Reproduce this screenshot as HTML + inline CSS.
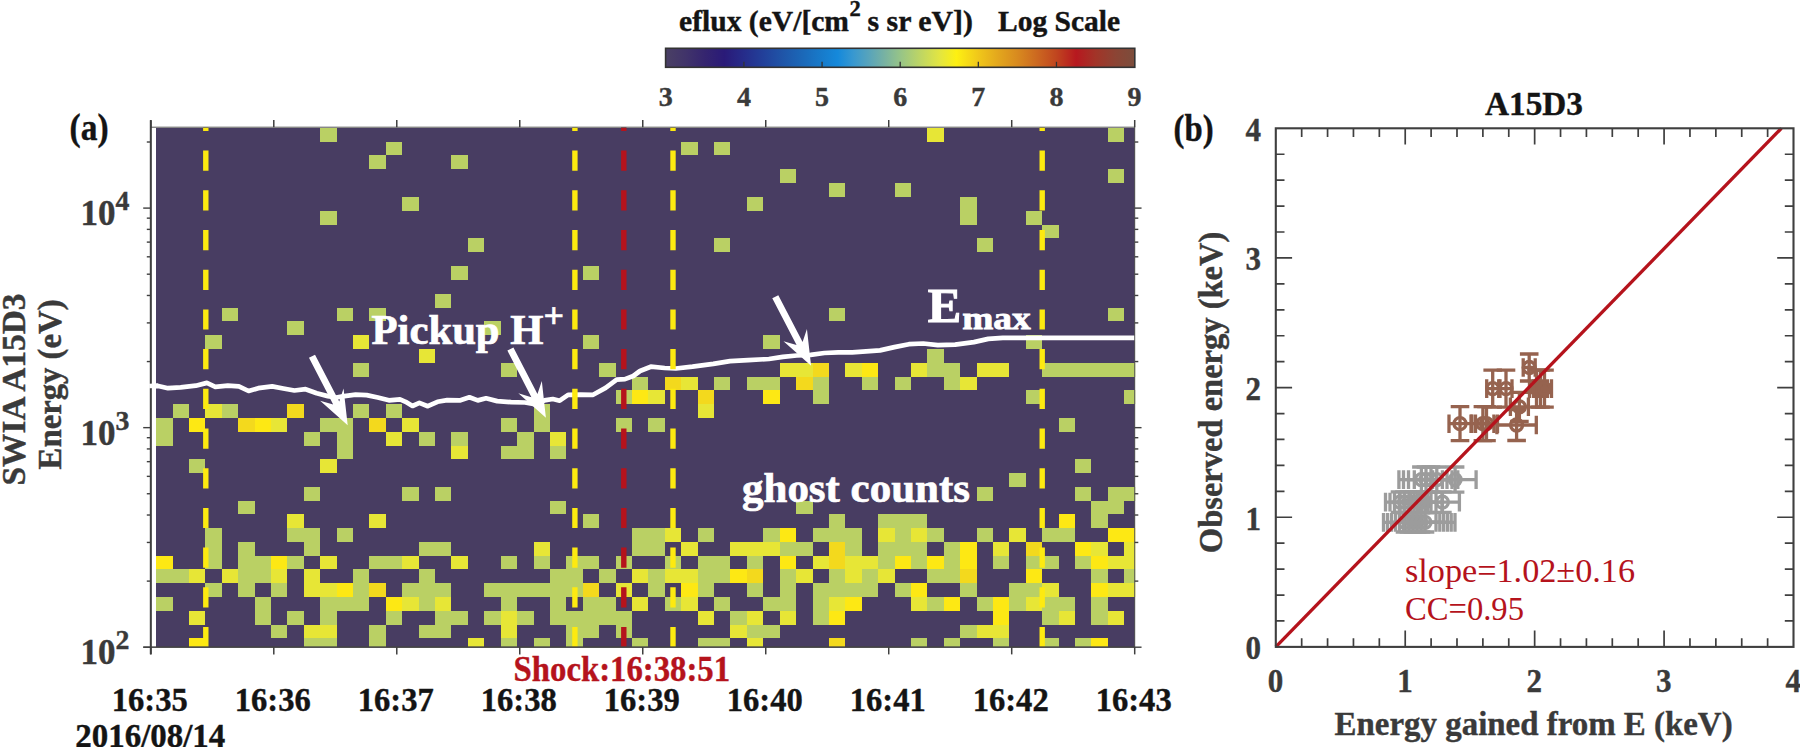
<!DOCTYPE html>
<html lang="en"><head><meta charset="utf-8"><title>SWIA A15D3 energy spectrogram</title>
<style>html,body{margin:0;padding:0;background:#fff}body{width:1800px;height:747px;overflow:hidden}svg{display:block}text{font-family:'Liberation Serif', 'DejaVu Serif', serif}</style></head><body>
<svg width="1800" height="747" viewBox="0 0 1800 747">
<rect x="0" y="0" width="1800" height="747" fill="#ffffff"/>
<defs><linearGradient id="cb" x1="0" y1="0" x2="1" y2="0">
<stop offset="0.0000" stop-color="#4a4064"/>
<stop offset="0.0417" stop-color="#41346a"/>
<stop offset="0.0833" stop-color="#35256f"/>
<stop offset="0.1250" stop-color="#2a1a78"/>
<stop offset="0.1667" stop-color="#262c8a"/>
<stop offset="0.2083" stop-color="#22409a"/>
<stop offset="0.2500" stop-color="#1f55a8"/>
<stop offset="0.2917" stop-color="#1b68b8"/>
<stop offset="0.3333" stop-color="#177bcb"/>
<stop offset="0.3667" stop-color="#1589db"/>
<stop offset="0.4000" stop-color="#3898d0"/>
<stop offset="0.4333" stop-color="#58a4bb"/>
<stop offset="0.4667" stop-color="#78b2a2"/>
<stop offset="0.5000" stop-color="#96c488"/>
<stop offset="0.5417" stop-color="#bdd565"/>
<stop offset="0.5833" stop-color="#e2e542"/>
<stop offset="0.6200" stop-color="#fdf012"/>
<stop offset="0.6667" stop-color="#f0c71a"/>
<stop offset="0.7083" stop-color="#e3a71d"/>
<stop offset="0.7500" stop-color="#d88a1f"/>
<stop offset="0.7917" stop-color="#cc6820"/>
<stop offset="0.8333" stop-color="#c0451f"/>
<stop offset="0.8750" stop-color="#b7181f"/>
<stop offset="0.9167" stop-color="#a23428"/>
<stop offset="0.9583" stop-color="#8c4434"/>
<stop offset="1.0000" stop-color="#7b4d3c"/>
</linearGradient>
<clipPath id="clipA"><rect x="150.8" y="127.2" width="984.5" height="520"/></clipPath>
</defs>
<g id="colorbar">
<rect x="665.6" y="48.3" width="469.2" height="19" fill="url(#cb)" stroke="#333333" stroke-width="1.6"/>
<text x="665.8" y="105.6" font-size="28" font-weight="bold" fill="#3a3a3a" stroke="#3a3a3a" stroke-width="0.4" text-anchor="middle">3</text>
<line x1="743.93" y1="67.3" x2="743.93" y2="61.8" stroke="#333333" stroke-width="1.3"/>
<text x="743.93" y="105.6" font-size="28" font-weight="bold" fill="#3a3a3a" stroke="#3a3a3a" stroke-width="0.4" text-anchor="middle">4</text>
<line x1="822.07" y1="67.3" x2="822.07" y2="61.8" stroke="#333333" stroke-width="1.3"/>
<text x="822.07" y="105.6" font-size="28" font-weight="bold" fill="#3a3a3a" stroke="#3a3a3a" stroke-width="0.4" text-anchor="middle">5</text>
<line x1="900.2" y1="67.3" x2="900.2" y2="61.8" stroke="#333333" stroke-width="1.3"/>
<text x="900.2" y="105.6" font-size="28" font-weight="bold" fill="#3a3a3a" stroke="#3a3a3a" stroke-width="0.4" text-anchor="middle">6</text>
<line x1="978.33" y1="67.3" x2="978.33" y2="61.8" stroke="#333333" stroke-width="1.3"/>
<text x="978.33" y="105.6" font-size="28" font-weight="bold" fill="#3a3a3a" stroke="#3a3a3a" stroke-width="0.4" text-anchor="middle">7</text>
<line x1="1056.47" y1="67.3" x2="1056.47" y2="61.8" stroke="#333333" stroke-width="1.3"/>
<text x="1056.47" y="105.6" font-size="28" font-weight="bold" fill="#3a3a3a" stroke="#3a3a3a" stroke-width="0.4" text-anchor="middle">8</text>
<text x="1134.6" y="105.6" font-size="28" font-weight="bold" fill="#3a3a3a" stroke="#3a3a3a" stroke-width="0.4" text-anchor="middle">9</text>
<text x="679" y="31.3" font-size="29" font-weight="bold" fill="#141414" stroke="#141414" stroke-width="0.4" textLength="170" lengthAdjust="spacingAndGlyphs">eflux (eV/[cm</text>
<text x="849.6" y="16.2" font-size="22.5" font-weight="bold" fill="#141414" stroke="#141414" stroke-width="0.4">2</text>
<text x="867.5" y="31.3" font-size="29" font-weight="bold" fill="#141414" stroke="#141414" stroke-width="0.4" textLength="105.5" lengthAdjust="spacingAndGlyphs">s sr eV])</text>
<text x="998" y="31.3" font-size="29" font-weight="bold" fill="#141414" stroke="#141414" stroke-width="0.4" textLength="122" lengthAdjust="spacingAndGlyphs">Log Scale</text>
</g>
<g id="panel-a">
<g clip-path="url(#clipA)">
<g shape-rendering="crispEdges">
<rect x="156.1" y="127.5" width="979.2" height="519.7" fill="#483d62"/>
<rect x="188.92" y="638.3" width="16.41" height="8.9" fill="#fde814"/>
<rect x="303.79" y="638.3" width="32.82" height="8.9" fill="#bad064"/>
<rect x="369.43" y="638.3" width="16.41" height="8.9" fill="#bad064"/>
<rect x="467.89" y="638.3" width="16.41" height="8.9" fill="#e7e636"/>
<rect x="500.71" y="638.3" width="16.41" height="8.9" fill="#bad064"/>
<rect x="533.53" y="638.3" width="16.41" height="8.9" fill="#bad064"/>
<rect x="566.35" y="638.3" width="16.41" height="8.9" fill="#bad064"/>
<rect x="631.99" y="638.3" width="16.41" height="8.9" fill="#bad064"/>
<rect x="697.63" y="638.3" width="32.82" height="8.9" fill="#bad064"/>
<rect x="746.86" y="638.3" width="16.41" height="8.9" fill="#e7e636"/>
<rect x="828.91" y="638.3" width="16.41" height="8.9" fill="#f3d91d"/>
<rect x="910.96" y="638.3" width="16.41" height="8.9" fill="#bad064"/>
<rect x="943.78" y="638.3" width="16.41" height="8.9" fill="#bad064"/>
<rect x="993.01" y="638.3" width="16.41" height="8.9" fill="#bad064"/>
<rect x="1042.24" y="638.3" width="16.41" height="8.9" fill="#bad064"/>
<rect x="1075.06" y="638.3" width="16.41" height="8.9" fill="#bad064"/>
<rect x="1091.47" y="638.3" width="16.41" height="8.9" fill="#fde814"/>
<rect x="270.97" y="624.53" width="16.41" height="13.77" fill="#bad064"/>
<rect x="303.79" y="624.53" width="32.82" height="13.77" fill="#e7e636"/>
<rect x="369.43" y="624.53" width="16.41" height="13.77" fill="#bad064"/>
<rect x="418.66" y="624.53" width="32.82" height="13.77" fill="#bad064"/>
<rect x="500.71" y="624.53" width="16.41" height="13.77" fill="#e7e636"/>
<rect x="566.35" y="624.53" width="32.82" height="13.77" fill="#bad064"/>
<rect x="615.58" y="624.53" width="16.41" height="13.77" fill="#bad064"/>
<rect x="730.45" y="624.53" width="16.41" height="13.77" fill="#e7e636"/>
<rect x="746.86" y="624.53" width="32.82" height="13.77" fill="#bad064"/>
<rect x="960.19" y="624.53" width="16.41" height="13.77" fill="#bad064"/>
<rect x="976.6" y="624.53" width="32.82" height="13.77" fill="#e7e636"/>
<rect x="188.92" y="610.76" width="16.41" height="13.77" fill="#e7e636"/>
<rect x="254.56" y="610.76" width="16.41" height="13.77" fill="#bad064"/>
<rect x="287.38" y="610.76" width="16.41" height="13.77" fill="#bad064"/>
<rect x="320.2" y="610.76" width="16.41" height="13.77" fill="#bad064"/>
<rect x="385.84" y="610.76" width="16.41" height="13.77" fill="#bad064"/>
<rect x="435.07" y="610.76" width="32.82" height="13.77" fill="#bad064"/>
<rect x="484.3" y="610.76" width="16.41" height="13.77" fill="#bad064"/>
<rect x="500.71" y="610.76" width="16.41" height="13.77" fill="#e7e636"/>
<rect x="517.12" y="610.76" width="16.41" height="13.77" fill="#bad064"/>
<rect x="549.94" y="610.76" width="82.05" height="13.77" fill="#bad064"/>
<rect x="697.63" y="610.76" width="16.41" height="13.77" fill="#e7e636"/>
<rect x="730.45" y="610.76" width="16.41" height="13.77" fill="#bad064"/>
<rect x="746.86" y="610.76" width="16.41" height="13.77" fill="#e7e636"/>
<rect x="779.68" y="610.76" width="16.41" height="13.77" fill="#e7e636"/>
<rect x="812.5" y="610.76" width="16.41" height="13.77" fill="#bad064"/>
<rect x="828.91" y="610.76" width="16.41" height="13.77" fill="#fde814"/>
<rect x="993.01" y="610.76" width="16.41" height="13.77" fill="#fde814"/>
<rect x="1042.24" y="610.76" width="16.41" height="13.77" fill="#bad064"/>
<rect x="1058.65" y="610.76" width="16.41" height="13.77" fill="#e7e636"/>
<rect x="1091.47" y="610.76" width="16.41" height="13.77" fill="#bad064"/>
<rect x="1107.88" y="610.76" width="16.41" height="13.77" fill="#e7e636"/>
<rect x="156.1" y="596.99" width="16.41" height="13.77" fill="#bad064"/>
<rect x="254.56" y="596.99" width="16.41" height="13.77" fill="#bad064"/>
<rect x="320.2" y="596.99" width="49.23" height="13.77" fill="#bad064"/>
<rect x="385.84" y="596.99" width="16.41" height="13.77" fill="#fde814"/>
<rect x="402.25" y="596.99" width="16.41" height="13.77" fill="#e7e636"/>
<rect x="418.66" y="596.99" width="16.41" height="13.77" fill="#bad064"/>
<rect x="435.07" y="596.99" width="16.41" height="13.77" fill="#e7e636"/>
<rect x="500.71" y="596.99" width="16.41" height="13.77" fill="#bad064"/>
<rect x="549.94" y="596.99" width="16.41" height="13.77" fill="#bad064"/>
<rect x="582.76" y="596.99" width="32.82" height="13.77" fill="#bad064"/>
<rect x="631.99" y="596.99" width="16.41" height="13.77" fill="#e7e636"/>
<rect x="664.81" y="596.99" width="16.41" height="13.77" fill="#bad064"/>
<rect x="681.22" y="596.99" width="16.41" height="13.77" fill="#e7e636"/>
<rect x="714.04" y="596.99" width="16.41" height="13.77" fill="#bad064"/>
<rect x="763.27" y="596.99" width="32.82" height="13.77" fill="#bad064"/>
<rect x="812.5" y="596.99" width="16.41" height="13.77" fill="#bad064"/>
<rect x="828.91" y="596.99" width="16.41" height="13.77" fill="#e7e636"/>
<rect x="845.32" y="596.99" width="16.41" height="13.77" fill="#fde814"/>
<rect x="910.96" y="596.99" width="16.41" height="13.77" fill="#e7e636"/>
<rect x="927.37" y="596.99" width="16.41" height="13.77" fill="#bad064"/>
<rect x="943.78" y="596.99" width="16.41" height="13.77" fill="#fde814"/>
<rect x="976.6" y="596.99" width="16.41" height="13.77" fill="#bad064"/>
<rect x="993.01" y="596.99" width="16.41" height="13.77" fill="#fde814"/>
<rect x="1009.42" y="596.99" width="16.41" height="13.77" fill="#bad064"/>
<rect x="1025.83" y="596.99" width="16.41" height="13.77" fill="#e7e636"/>
<rect x="1042.24" y="596.99" width="32.82" height="13.77" fill="#bad064"/>
<rect x="1091.47" y="596.99" width="16.41" height="13.77" fill="#bad064"/>
<rect x="205.33" y="583.22" width="16.41" height="13.77" fill="#bad064"/>
<rect x="238.15" y="583.22" width="16.41" height="13.77" fill="#bad064"/>
<rect x="270.97" y="583.22" width="16.41" height="13.77" fill="#bad064"/>
<rect x="303.79" y="583.22" width="32.82" height="13.77" fill="#e7e636"/>
<rect x="336.61" y="583.22" width="16.41" height="13.77" fill="#fde814"/>
<rect x="353.02" y="583.22" width="16.41" height="13.77" fill="#bad064"/>
<rect x="369.43" y="583.22" width="16.41" height="13.77" fill="#f3d91d"/>
<rect x="402.25" y="583.22" width="49.23" height="13.77" fill="#bad064"/>
<rect x="484.3" y="583.22" width="98.46" height="13.77" fill="#bad064"/>
<rect x="582.76" y="583.22" width="16.41" height="13.77" fill="#f3d91d"/>
<rect x="615.58" y="583.22" width="16.41" height="13.77" fill="#e7e636"/>
<rect x="648.4" y="583.22" width="16.41" height="13.77" fill="#bad064"/>
<rect x="681.22" y="583.22" width="16.41" height="13.77" fill="#fde814"/>
<rect x="697.63" y="583.22" width="16.41" height="13.77" fill="#bad064"/>
<rect x="746.86" y="583.22" width="16.41" height="13.77" fill="#bad064"/>
<rect x="779.68" y="583.22" width="16.41" height="13.77" fill="#bad064"/>
<rect x="812.5" y="583.22" width="65.64" height="13.77" fill="#bad064"/>
<rect x="894.55" y="583.22" width="16.41" height="13.77" fill="#bad064"/>
<rect x="910.96" y="583.22" width="16.41" height="13.77" fill="#fde814"/>
<rect x="960.19" y="583.22" width="16.41" height="13.77" fill="#bad064"/>
<rect x="1009.42" y="583.22" width="32.82" height="13.77" fill="#bad064"/>
<rect x="1042.24" y="583.22" width="16.41" height="13.77" fill="#e7e636"/>
<rect x="1091.47" y="583.22" width="16.41" height="13.77" fill="#fde814"/>
<rect x="1107.88" y="583.22" width="32.82" height="13.77" fill="#e7e636"/>
<rect x="156.1" y="569.45" width="32.82" height="13.77" fill="#bad064"/>
<rect x="188.92" y="569.45" width="16.41" height="13.77" fill="#e7e636"/>
<rect x="221.74" y="569.45" width="16.41" height="13.77" fill="#e7e636"/>
<rect x="238.15" y="569.45" width="32.82" height="13.77" fill="#bad064"/>
<rect x="270.97" y="569.45" width="16.41" height="13.77" fill="#e7e636"/>
<rect x="303.79" y="569.45" width="16.41" height="13.77" fill="#e7e636"/>
<rect x="353.02" y="569.45" width="16.41" height="13.77" fill="#bad064"/>
<rect x="418.66" y="569.45" width="16.41" height="13.77" fill="#bad064"/>
<rect x="549.94" y="569.45" width="32.82" height="13.77" fill="#bad064"/>
<rect x="599.17" y="569.45" width="16.41" height="13.77" fill="#bad064"/>
<rect x="631.99" y="569.45" width="16.41" height="13.77" fill="#e7e636"/>
<rect x="648.4" y="569.45" width="16.41" height="13.77" fill="#bad064"/>
<rect x="664.81" y="569.45" width="32.82" height="13.77" fill="#e7e636"/>
<rect x="697.63" y="569.45" width="32.82" height="13.77" fill="#bad064"/>
<rect x="730.45" y="569.45" width="16.41" height="13.77" fill="#fde814"/>
<rect x="746.86" y="569.45" width="16.41" height="13.77" fill="#f3d91d"/>
<rect x="779.68" y="569.45" width="16.41" height="13.77" fill="#bad064"/>
<rect x="796.09" y="569.45" width="16.41" height="13.77" fill="#e7e636"/>
<rect x="828.91" y="569.45" width="16.41" height="13.77" fill="#bad064"/>
<rect x="845.32" y="569.45" width="16.41" height="13.77" fill="#e7e636"/>
<rect x="861.73" y="569.45" width="16.41" height="13.77" fill="#bad064"/>
<rect x="878.14" y="569.45" width="16.41" height="13.77" fill="#e7e636"/>
<rect x="927.37" y="569.45" width="32.82" height="13.77" fill="#bad064"/>
<rect x="960.19" y="569.45" width="16.41" height="13.77" fill="#f3d91d"/>
<rect x="1025.83" y="569.45" width="16.41" height="13.77" fill="#fde814"/>
<rect x="1091.47" y="569.45" width="16.41" height="13.77" fill="#bad064"/>
<rect x="1124.29" y="569.45" width="16.41" height="13.77" fill="#bad064"/>
<rect x="156.1" y="555.68" width="16.41" height="13.77" fill="#fde814"/>
<rect x="205.33" y="555.68" width="16.41" height="13.77" fill="#bad064"/>
<rect x="238.15" y="555.68" width="32.82" height="13.77" fill="#bad064"/>
<rect x="270.97" y="555.68" width="16.41" height="13.77" fill="#fde814"/>
<rect x="287.38" y="555.68" width="16.41" height="13.77" fill="#bad064"/>
<rect x="320.2" y="555.68" width="16.41" height="13.77" fill="#e7e636"/>
<rect x="369.43" y="555.68" width="32.82" height="13.77" fill="#bad064"/>
<rect x="402.25" y="555.68" width="16.41" height="13.77" fill="#e7e636"/>
<rect x="451.48" y="555.68" width="16.41" height="13.77" fill="#e7e636"/>
<rect x="500.71" y="555.68" width="16.41" height="13.77" fill="#bad064"/>
<rect x="533.53" y="555.68" width="16.41" height="13.77" fill="#bad064"/>
<rect x="566.35" y="555.68" width="32.82" height="13.77" fill="#bad064"/>
<rect x="615.58" y="555.68" width="16.41" height="13.77" fill="#bad064"/>
<rect x="664.81" y="555.68" width="16.41" height="13.77" fill="#bad064"/>
<rect x="697.63" y="555.68" width="32.82" height="13.77" fill="#bad064"/>
<rect x="746.86" y="555.68" width="16.41" height="13.77" fill="#bad064"/>
<rect x="779.68" y="555.68" width="16.41" height="13.77" fill="#fde814"/>
<rect x="812.5" y="555.68" width="16.41" height="13.77" fill="#e7e636"/>
<rect x="828.91" y="555.68" width="16.41" height="13.77" fill="#f3d91d"/>
<rect x="845.32" y="555.68" width="32.82" height="13.77" fill="#e7e636"/>
<rect x="878.14" y="555.68" width="16.41" height="13.77" fill="#bad064"/>
<rect x="894.55" y="555.68" width="16.41" height="13.77" fill="#fde814"/>
<rect x="910.96" y="555.68" width="16.41" height="13.77" fill="#bad064"/>
<rect x="927.37" y="555.68" width="16.41" height="13.77" fill="#fde814"/>
<rect x="943.78" y="555.68" width="16.41" height="13.77" fill="#bad064"/>
<rect x="960.19" y="555.68" width="16.41" height="13.77" fill="#fde814"/>
<rect x="993.01" y="555.68" width="16.41" height="13.77" fill="#bad064"/>
<rect x="1025.83" y="555.68" width="32.82" height="13.77" fill="#bad064"/>
<rect x="1075.06" y="555.68" width="16.41" height="13.77" fill="#bad064"/>
<rect x="1091.47" y="555.68" width="16.41" height="13.77" fill="#fde814"/>
<rect x="1107.88" y="555.68" width="32.82" height="13.77" fill="#e7e636"/>
<rect x="205.33" y="541.91" width="16.41" height="13.77" fill="#bad064"/>
<rect x="238.15" y="541.91" width="16.41" height="13.77" fill="#bad064"/>
<rect x="303.79" y="541.91" width="16.41" height="13.77" fill="#bad064"/>
<rect x="418.66" y="541.91" width="32.82" height="13.77" fill="#bad064"/>
<rect x="533.53" y="541.91" width="16.41" height="13.77" fill="#e7e636"/>
<rect x="631.99" y="541.91" width="32.82" height="13.77" fill="#bad064"/>
<rect x="681.22" y="541.91" width="16.41" height="13.77" fill="#e7e636"/>
<rect x="730.45" y="541.91" width="49.23" height="13.77" fill="#e7e636"/>
<rect x="779.68" y="541.91" width="32.82" height="13.77" fill="#bad064"/>
<rect x="828.91" y="541.91" width="16.41" height="13.77" fill="#f3d91d"/>
<rect x="845.32" y="541.91" width="16.41" height="13.77" fill="#bad064"/>
<rect x="878.14" y="541.91" width="49.23" height="13.77" fill="#bad064"/>
<rect x="943.78" y="541.91" width="16.41" height="13.77" fill="#bad064"/>
<rect x="960.19" y="541.91" width="16.41" height="13.77" fill="#fde814"/>
<rect x="993.01" y="541.91" width="16.41" height="13.77" fill="#e7e636"/>
<rect x="1025.83" y="541.91" width="16.41" height="13.77" fill="#f3d91d"/>
<rect x="1075.06" y="541.91" width="16.41" height="13.77" fill="#fde814"/>
<rect x="1091.47" y="541.91" width="16.41" height="13.77" fill="#e7e636"/>
<rect x="1124.29" y="541.91" width="16.41" height="13.77" fill="#e7e636"/>
<rect x="205.33" y="528.14" width="16.41" height="13.77" fill="#bad064"/>
<rect x="287.38" y="528.14" width="32.82" height="13.77" fill="#bad064"/>
<rect x="336.61" y="528.14" width="16.41" height="13.77" fill="#bad064"/>
<rect x="631.99" y="528.14" width="32.82" height="13.77" fill="#bad064"/>
<rect x="664.81" y="528.14" width="16.41" height="13.77" fill="#e7e636"/>
<rect x="697.63" y="528.14" width="16.41" height="13.77" fill="#bad064"/>
<rect x="763.27" y="528.14" width="16.41" height="13.77" fill="#bad064"/>
<rect x="779.68" y="528.14" width="16.41" height="13.77" fill="#fde814"/>
<rect x="812.5" y="528.14" width="49.23" height="13.77" fill="#bad064"/>
<rect x="878.14" y="528.14" width="16.41" height="13.77" fill="#e7e636"/>
<rect x="894.55" y="528.14" width="16.41" height="13.77" fill="#bad064"/>
<rect x="910.96" y="528.14" width="16.41" height="13.77" fill="#e7e636"/>
<rect x="927.37" y="528.14" width="16.41" height="13.77" fill="#bad064"/>
<rect x="976.6" y="528.14" width="16.41" height="13.77" fill="#bad064"/>
<rect x="1009.42" y="528.14" width="16.41" height="13.77" fill="#e7e636"/>
<rect x="1042.24" y="528.14" width="32.82" height="13.77" fill="#bad064"/>
<rect x="1107.88" y="528.14" width="32.82" height="13.77" fill="#fde814"/>
<rect x="287.38" y="514.37" width="16.41" height="13.77" fill="#e7e636"/>
<rect x="369.43" y="514.37" width="16.41" height="13.77" fill="#e7e636"/>
<rect x="582.76" y="514.37" width="16.41" height="13.77" fill="#bad064"/>
<rect x="828.91" y="514.37" width="16.41" height="13.77" fill="#bad064"/>
<rect x="878.14" y="514.37" width="49.23" height="13.77" fill="#bad064"/>
<rect x="1058.65" y="514.37" width="16.41" height="13.77" fill="#fde814"/>
<rect x="1091.47" y="514.37" width="16.41" height="13.77" fill="#bad064"/>
<rect x="238.15" y="500.6" width="16.41" height="13.77" fill="#bad064"/>
<rect x="549.94" y="500.6" width="16.41" height="13.77" fill="#bad064"/>
<rect x="796.09" y="500.6" width="16.41" height="13.77" fill="#bad064"/>
<rect x="1091.47" y="500.6" width="32.82" height="13.77" fill="#bad064"/>
<rect x="303.79" y="486.83" width="16.41" height="13.77" fill="#bad064"/>
<rect x="402.25" y="486.83" width="16.41" height="13.77" fill="#bad064"/>
<rect x="435.07" y="486.83" width="16.41" height="13.77" fill="#bad064"/>
<rect x="976.6" y="486.83" width="16.41" height="13.77" fill="#bad064"/>
<rect x="1075.06" y="486.83" width="16.41" height="13.77" fill="#bad064"/>
<rect x="1107.88" y="486.83" width="32.82" height="13.77" fill="#bad064"/>
<rect x="1009.42" y="473.06" width="16.41" height="13.77" fill="#bad064"/>
<rect x="188.92" y="459.29" width="16.41" height="13.77" fill="#bad064"/>
<rect x="320.2" y="459.29" width="16.41" height="13.77" fill="#e7e636"/>
<rect x="1075.06" y="459.29" width="16.41" height="13.77" fill="#bad064"/>
<rect x="336.61" y="445.52" width="16.41" height="13.77" fill="#bad064"/>
<rect x="451.48" y="445.52" width="16.41" height="13.77" fill="#e7e636"/>
<rect x="500.71" y="445.52" width="32.82" height="13.77" fill="#bad064"/>
<rect x="549.94" y="445.52" width="16.41" height="13.77" fill="#bad064"/>
<rect x="156.1" y="431.75" width="16.41" height="13.77" fill="#bad064"/>
<rect x="303.79" y="431.75" width="16.41" height="13.77" fill="#bad064"/>
<rect x="336.61" y="431.75" width="16.41" height="13.77" fill="#bad064"/>
<rect x="385.84" y="431.75" width="16.41" height="13.77" fill="#e7e636"/>
<rect x="418.66" y="431.75" width="16.41" height="13.77" fill="#bad064"/>
<rect x="451.48" y="431.75" width="16.41" height="13.77" fill="#bad064"/>
<rect x="517.12" y="431.75" width="16.41" height="13.77" fill="#bad064"/>
<rect x="549.94" y="431.75" width="16.41" height="13.77" fill="#e7e636"/>
<rect x="156.1" y="417.98" width="16.41" height="13.77" fill="#bad064"/>
<rect x="188.92" y="417.98" width="16.41" height="13.77" fill="#fde814"/>
<rect x="238.15" y="417.98" width="16.41" height="13.77" fill="#f3d91d"/>
<rect x="254.56" y="417.98" width="16.41" height="13.77" fill="#fde814"/>
<rect x="270.97" y="417.98" width="16.41" height="13.77" fill="#e7e636"/>
<rect x="320.2" y="417.98" width="32.82" height="13.77" fill="#bad064"/>
<rect x="369.43" y="417.98" width="16.41" height="13.77" fill="#f3d91d"/>
<rect x="402.25" y="417.98" width="16.41" height="13.77" fill="#e7e636"/>
<rect x="500.71" y="417.98" width="16.41" height="13.77" fill="#bad064"/>
<rect x="533.53" y="417.98" width="16.41" height="13.77" fill="#bad064"/>
<rect x="615.58" y="417.98" width="16.41" height="13.77" fill="#bad064"/>
<rect x="648.4" y="417.98" width="16.41" height="13.77" fill="#bad064"/>
<rect x="1058.65" y="417.98" width="16.41" height="13.77" fill="#bad064"/>
<rect x="172.51" y="404.21" width="16.41" height="13.77" fill="#bad064"/>
<rect x="205.33" y="404.21" width="16.41" height="13.77" fill="#e7e636"/>
<rect x="221.74" y="404.21" width="16.41" height="13.77" fill="#bad064"/>
<rect x="287.38" y="404.21" width="16.41" height="13.77" fill="#f3d91d"/>
<rect x="353.02" y="404.21" width="16.41" height="13.77" fill="#bad064"/>
<rect x="385.84" y="404.21" width="16.41" height="13.77" fill="#bad064"/>
<rect x="533.53" y="404.21" width="16.41" height="13.77" fill="#bad064"/>
<rect x="697.63" y="404.21" width="16.41" height="13.77" fill="#e7e636"/>
<rect x="615.58" y="390.44" width="16.41" height="13.77" fill="#bad064"/>
<rect x="631.99" y="390.44" width="16.41" height="13.77" fill="#fde814"/>
<rect x="648.4" y="390.44" width="16.41" height="13.77" fill="#e7e636"/>
<rect x="697.63" y="390.44" width="16.41" height="13.77" fill="#f3d91d"/>
<rect x="763.27" y="390.44" width="16.41" height="13.77" fill="#fde814"/>
<rect x="812.5" y="390.44" width="16.41" height="13.77" fill="#bad064"/>
<rect x="1025.83" y="390.44" width="16.41" height="13.77" fill="#bad064"/>
<rect x="1124.29" y="390.44" width="16.41" height="13.77" fill="#bad064"/>
<rect x="631.99" y="376.67" width="16.41" height="13.77" fill="#bad064"/>
<rect x="664.81" y="376.67" width="16.41" height="13.77" fill="#f3d91d"/>
<rect x="681.22" y="376.67" width="16.41" height="13.77" fill="#e7e636"/>
<rect x="714.04" y="376.67" width="16.41" height="13.77" fill="#bad064"/>
<rect x="746.86" y="376.67" width="32.82" height="13.77" fill="#bad064"/>
<rect x="796.09" y="376.67" width="16.41" height="13.77" fill="#f3d91d"/>
<rect x="812.5" y="376.67" width="16.41" height="13.77" fill="#bad064"/>
<rect x="861.73" y="376.67" width="16.41" height="13.77" fill="#bad064"/>
<rect x="894.55" y="376.67" width="16.41" height="13.77" fill="#bad064"/>
<rect x="943.78" y="376.67" width="16.41" height="13.77" fill="#bad064"/>
<rect x="960.19" y="376.67" width="16.41" height="13.77" fill="#e7e636"/>
<rect x="353.02" y="362.9" width="16.41" height="13.77" fill="#bad064"/>
<rect x="500.71" y="362.9" width="16.41" height="13.77" fill="#bad064"/>
<rect x="599.17" y="362.9" width="16.41" height="13.77" fill="#bad064"/>
<rect x="779.68" y="362.9" width="32.82" height="13.77" fill="#e7e636"/>
<rect x="812.5" y="362.9" width="16.41" height="13.77" fill="#f3d91d"/>
<rect x="845.32" y="362.9" width="16.41" height="13.77" fill="#e7e636"/>
<rect x="861.73" y="362.9" width="16.41" height="13.77" fill="#fde814"/>
<rect x="910.96" y="362.9" width="16.41" height="13.77" fill="#e7e636"/>
<rect x="927.37" y="362.9" width="32.82" height="13.77" fill="#bad064"/>
<rect x="976.6" y="362.9" width="32.82" height="13.77" fill="#e7e636"/>
<rect x="1042.24" y="362.9" width="98.46" height="13.77" fill="#bad064"/>
<rect x="418.66" y="349.07" width="16.41" height="13.83" fill="#e7e636"/>
<rect x="927.37" y="349.07" width="16.41" height="13.83" fill="#bad064"/>
<rect x="205.33" y="335.24" width="16.41" height="13.83" fill="#bad064"/>
<rect x="353.02" y="335.24" width="16.41" height="13.83" fill="#e7e636"/>
<rect x="582.76" y="335.24" width="16.41" height="13.83" fill="#bad064"/>
<rect x="763.27" y="335.24" width="16.41" height="13.83" fill="#bad064"/>
<rect x="1025.83" y="335.24" width="16.41" height="13.83" fill="#bad064"/>
<rect x="287.38" y="321.41" width="16.41" height="13.83" fill="#bad064"/>
<rect x="484.3" y="321.41" width="16.41" height="13.83" fill="#bad064"/>
<rect x="221.74" y="307.58" width="16.41" height="13.83" fill="#bad064"/>
<rect x="336.61" y="307.58" width="16.41" height="13.83" fill="#bad064"/>
<rect x="369.43" y="307.58" width="16.41" height="13.83" fill="#bad064"/>
<rect x="828.91" y="307.58" width="16.41" height="13.83" fill="#bad064"/>
<rect x="1107.88" y="307.58" width="16.41" height="13.83" fill="#bad064"/>
<rect x="435.07" y="293.75" width="16.41" height="13.83" fill="#bad064"/>
<rect x="451.48" y="266.09" width="16.41" height="13.83" fill="#bad064"/>
<rect x="582.76" y="266.09" width="16.41" height="13.83" fill="#bad064"/>
<rect x="467.89" y="238.43" width="16.41" height="13.83" fill="#bad064"/>
<rect x="714.04" y="238.43" width="16.41" height="13.83" fill="#bad064"/>
<rect x="976.6" y="238.43" width="16.41" height="13.83" fill="#bad064"/>
<rect x="1042.24" y="224.6" width="16.41" height="13.83" fill="#bad064"/>
<rect x="320.2" y="210.77" width="16.41" height="13.83" fill="#bad064"/>
<rect x="960.19" y="210.77" width="16.41" height="13.83" fill="#bad064"/>
<rect x="1025.83" y="210.77" width="16.41" height="13.83" fill="#bad064"/>
<rect x="402.25" y="196.94" width="16.41" height="13.83" fill="#bad064"/>
<rect x="746.86" y="196.94" width="16.41" height="13.83" fill="#bad064"/>
<rect x="960.19" y="196.94" width="16.41" height="13.83" fill="#bad064"/>
<rect x="828.91" y="183.11" width="16.41" height="13.83" fill="#bad064"/>
<rect x="894.55" y="183.11" width="16.41" height="13.83" fill="#bad064"/>
<rect x="779.68" y="169.28" width="16.41" height="13.83" fill="#bad064"/>
<rect x="1107.88" y="169.28" width="16.41" height="13.83" fill="#bad064"/>
<rect x="369.43" y="155.45" width="16.41" height="13.83" fill="#bad064"/>
<rect x="451.48" y="155.45" width="16.41" height="13.83" fill="#bad064"/>
<rect x="385.84" y="141.62" width="16.41" height="13.83" fill="#bad064"/>
<rect x="681.22" y="141.62" width="16.41" height="13.83" fill="#bad064"/>
<rect x="714.04" y="141.62" width="16.41" height="13.83" fill="#bad064"/>
<rect x="320.2" y="127.79" width="16.41" height="13.83" fill="#bad064"/>
<rect x="927.37" y="127.79" width="16.41" height="13.83" fill="#e7e636"/>
<rect x="1107.88" y="127.79" width="16.41" height="13.83" fill="#bad064"/>
</g>
<polyline points="149.3,386.4 158.3,386 168,388.2 180.6,387.3 195.8,385.7 206.9,382.9 215.3,386.8 227.8,385.7 238.9,386.4 248.6,391 258.3,388.2 272.2,386.4 283.3,388.5 294.4,390.5 305.6,389.2 316.7,393.3 327.8,396.1 336.1,397.5 344.4,396.1 355.6,394.7 366.7,395.1 377.8,397.5 388.9,400.3 400,399.4 405.6,401.8 412.5,406 419.4,402.9 427.8,406.2 437.5,401.8 447.2,400.1 459.7,400.4 469.4,397.3 477.8,400.4 486.1,398.3 497.2,401.1 511.1,402.1 525,402.5 533.3,403.9 544.4,400.4 552.8,399 559.7,400.7 568.1,394.8 580.6,394.6 593.1,394.8 605.6,387.9 616.7,379.6 625,379.1 633.3,376 640,371 650.8,366.7 664.7,368 675.8,368.5 692.5,366.7 713.3,363.9 730,361.1 748.1,360.1 768.9,359 782.8,356.9 796.7,355.5 810.6,354.8 824.4,353 838.3,352.3 852.2,352.3 866.1,351.4 880,350.4 894.4,347.1 908.9,344.2 923.3,343.5 937.8,345.2 955.1,344.7 973.9,342.1 988.3,338.9 1002.8,337.8 1024.4,337.9 1135.5,337.9" fill="none" stroke="#ffffff" stroke-width="4.7" stroke-linejoin="round" stroke-linecap="butt"/>
<line x1="205.8" y1="647.2" x2="205.8" y2="97.2" stroke="#fdea10" stroke-width="5.4" stroke-dasharray="20.2 19.5"/>
<line x1="574.9" y1="647.2" x2="574.9" y2="97.2" stroke="#fdea10" stroke-width="5.4" stroke-dasharray="20.2 19.5"/>
<line x1="673" y1="647.2" x2="673" y2="97.2" stroke="#fdea10" stroke-width="5.4" stroke-dasharray="20.2 19.5"/>
<line x1="1042.2" y1="647.2" x2="1042.2" y2="97.2" stroke="#fdea10" stroke-width="5.4" stroke-dasharray="20.2 19.5"/>
<line x1="623.8" y1="647.2" x2="623.8" y2="97.2" stroke="#b5131c" stroke-width="5.4" stroke-dasharray="20.2 19.5"/>
</g>
<polygon points="315.02,354.74 339.22,401.44 343.55,388.5 347.7,425.2 320.11,400.64 333.18,404.57 308.98,357.86" fill="#ffffff"/>
<polygon points="513.42,347.44 537.46,394.02 541.81,381.09 545.9,417.8 518.35,393.19 531.41,397.14 507.38,350.56" fill="#ffffff"/>
<polygon points="778.32,295.13 802.6,341.94 806.93,329 811.1,365.7 783.49,341.16 796.57,345.07 772.28,298.27" fill="#ffffff"/>
<text x="371.5" y="344.3" font-size="42" font-weight="bold" fill="#ffffff" stroke="#ffffff" stroke-width="0.7" textLength="172" lengthAdjust="spacingAndGlyphs">Pickup H</text>
<text x="543.6" y="328" font-size="36" font-weight="bold" fill="#ffffff" stroke="#ffffff" stroke-width="0.6">+</text>
<text x="927.8" y="321.8" font-size="47.5" font-weight="bold" fill="#ffffff" stroke="#ffffff" stroke-width="1.0" textLength="33.5" lengthAdjust="spacingAndGlyphs">E</text>
<text x="962.2" y="328.9" font-size="32" font-weight="bold" fill="#ffffff" stroke="#ffffff" stroke-width="0.8" textLength="68.5" lengthAdjust="spacingAndGlyphs">max</text>
<text x="742" y="501.8" font-size="42" font-weight="bold" fill="#ffffff" stroke="#ffffff" stroke-width="0.7" textLength="228" lengthAdjust="spacingAndGlyphs">ghost counts</text>
<rect x="150.8" y="127.2" width="983.9" height="520" fill="none" stroke="#555555" stroke-width="1.0"/>
<line x1="150.8" y1="120.2" x2="150.8" y2="654.2" stroke="#3f3f3f" stroke-width="2"/>
<line x1="143.3" y1="647.2" x2="1134.7" y2="647.2" stroke="#3f3f3f" stroke-width="1.3"/>
<polyline points="149.3,386 158.3,385.6" fill="none" stroke="#ffffff" stroke-width="4.7"/>
<line x1="150.8" y1="647.2" x2="150.8" y2="654.4" stroke="#3f3f3f" stroke-width="1.5"/>
<line x1="150.8" y1="127.2" x2="150.8" y2="120" stroke="#3f3f3f" stroke-width="1.5"/>
<text x="149.8" y="711.3" font-size="34" font-weight="bold" fill="#141414" stroke="#141414" stroke-width="0.4" text-anchor="middle" textLength="76" lengthAdjust="spacingAndGlyphs">16:35</text>
<line x1="273.79" y1="647.2" x2="273.79" y2="654.4" stroke="#3f3f3f" stroke-width="1.5"/>
<line x1="273.79" y1="127.2" x2="273.79" y2="120" stroke="#3f3f3f" stroke-width="1.5"/>
<text x="272.79" y="711.3" font-size="34" font-weight="bold" fill="#141414" stroke="#141414" stroke-width="0.4" text-anchor="middle" textLength="76" lengthAdjust="spacingAndGlyphs">16:36</text>
<line x1="396.78" y1="647.2" x2="396.78" y2="654.4" stroke="#3f3f3f" stroke-width="1.5"/>
<line x1="396.78" y1="127.2" x2="396.78" y2="120" stroke="#3f3f3f" stroke-width="1.5"/>
<text x="395.78" y="711.3" font-size="34" font-weight="bold" fill="#141414" stroke="#141414" stroke-width="0.4" text-anchor="middle" textLength="76" lengthAdjust="spacingAndGlyphs">16:37</text>
<line x1="519.76" y1="647.2" x2="519.76" y2="654.4" stroke="#3f3f3f" stroke-width="1.5"/>
<line x1="519.76" y1="127.2" x2="519.76" y2="120" stroke="#3f3f3f" stroke-width="1.5"/>
<text x="518.76" y="711.3" font-size="34" font-weight="bold" fill="#141414" stroke="#141414" stroke-width="0.4" text-anchor="middle" textLength="76" lengthAdjust="spacingAndGlyphs">16:38</text>
<line x1="642.75" y1="647.2" x2="642.75" y2="654.4" stroke="#3f3f3f" stroke-width="1.5"/>
<line x1="642.75" y1="127.2" x2="642.75" y2="120" stroke="#3f3f3f" stroke-width="1.5"/>
<text x="641.75" y="711.3" font-size="34" font-weight="bold" fill="#141414" stroke="#141414" stroke-width="0.4" text-anchor="middle" textLength="76" lengthAdjust="spacingAndGlyphs">16:39</text>
<line x1="765.74" y1="647.2" x2="765.74" y2="654.4" stroke="#3f3f3f" stroke-width="1.5"/>
<line x1="765.74" y1="127.2" x2="765.74" y2="120" stroke="#3f3f3f" stroke-width="1.5"/>
<text x="764.74" y="711.3" font-size="34" font-weight="bold" fill="#141414" stroke="#141414" stroke-width="0.4" text-anchor="middle" textLength="76" lengthAdjust="spacingAndGlyphs">16:40</text>
<line x1="888.73" y1="647.2" x2="888.73" y2="654.4" stroke="#3f3f3f" stroke-width="1.5"/>
<line x1="888.73" y1="127.2" x2="888.73" y2="120" stroke="#3f3f3f" stroke-width="1.5"/>
<text x="887.73" y="711.3" font-size="34" font-weight="bold" fill="#141414" stroke="#141414" stroke-width="0.4" text-anchor="middle" textLength="76" lengthAdjust="spacingAndGlyphs">16:41</text>
<line x1="1011.71" y1="647.2" x2="1011.71" y2="654.4" stroke="#3f3f3f" stroke-width="1.5"/>
<line x1="1011.71" y1="127.2" x2="1011.71" y2="120" stroke="#3f3f3f" stroke-width="1.5"/>
<text x="1010.71" y="711.3" font-size="34" font-weight="bold" fill="#141414" stroke="#141414" stroke-width="0.4" text-anchor="middle" textLength="76" lengthAdjust="spacingAndGlyphs">16:42</text>
<line x1="1134.7" y1="647.2" x2="1134.7" y2="654.4" stroke="#3f3f3f" stroke-width="1.5"/>
<line x1="1134.7" y1="127.2" x2="1134.7" y2="120" stroke="#3f3f3f" stroke-width="1.5"/>
<text x="1133.7" y="711.3" font-size="34" font-weight="bold" fill="#141414" stroke="#141414" stroke-width="0.4" text-anchor="middle" textLength="76" lengthAdjust="spacingAndGlyphs">16:43</text>
<text x="150.3" y="746.9" font-size="34" font-weight="bold" fill="#141414" stroke="#141414" stroke-width="0.4" text-anchor="middle" textLength="150" lengthAdjust="spacingAndGlyphs">2016/08/14</text>
<line x1="143.2" y1="647.2" x2="150.8" y2="647.2" stroke="#3f3f3f" stroke-width="1.4"/>
<line x1="1134.7" y1="647.2" x2="1141.54" y2="647.2" stroke="#3f3f3f" stroke-width="1.4"/>
<line x1="146.8" y1="581.11" x2="150.8" y2="581.11" stroke="#3f3f3f" stroke-width="1.4"/>
<line x1="1134.7" y1="581.11" x2="1138.3" y2="581.11" stroke="#3f3f3f" stroke-width="1.4"/>
<line x1="146.8" y1="542.45" x2="150.8" y2="542.45" stroke="#3f3f3f" stroke-width="1.4"/>
<line x1="1134.7" y1="542.45" x2="1138.3" y2="542.45" stroke="#3f3f3f" stroke-width="1.4"/>
<line x1="146.8" y1="515.02" x2="150.8" y2="515.02" stroke="#3f3f3f" stroke-width="1.4"/>
<line x1="1134.7" y1="515.02" x2="1138.3" y2="515.02" stroke="#3f3f3f" stroke-width="1.4"/>
<line x1="146.8" y1="493.74" x2="150.8" y2="493.74" stroke="#3f3f3f" stroke-width="1.4"/>
<line x1="1134.7" y1="493.74" x2="1138.3" y2="493.74" stroke="#3f3f3f" stroke-width="1.4"/>
<line x1="146.8" y1="476.36" x2="150.8" y2="476.36" stroke="#3f3f3f" stroke-width="1.4"/>
<line x1="1134.7" y1="476.36" x2="1138.3" y2="476.36" stroke="#3f3f3f" stroke-width="1.4"/>
<line x1="146.8" y1="461.66" x2="150.8" y2="461.66" stroke="#3f3f3f" stroke-width="1.4"/>
<line x1="1134.7" y1="461.66" x2="1138.3" y2="461.66" stroke="#3f3f3f" stroke-width="1.4"/>
<line x1="146.8" y1="448.93" x2="150.8" y2="448.93" stroke="#3f3f3f" stroke-width="1.4"/>
<line x1="1134.7" y1="448.93" x2="1138.3" y2="448.93" stroke="#3f3f3f" stroke-width="1.4"/>
<line x1="146.8" y1="437.7" x2="150.8" y2="437.7" stroke="#3f3f3f" stroke-width="1.4"/>
<line x1="1134.7" y1="437.7" x2="1138.3" y2="437.7" stroke="#3f3f3f" stroke-width="1.4"/>
<text x="80.6" y="664.2" font-size="35" font-weight="bold" fill="#3a3a3a" stroke="#3a3a3a" stroke-width="0.4" textLength="35" lengthAdjust="spacingAndGlyphs">10</text>
<text x="115.6" y="649.2" font-size="27.8" font-weight="bold" fill="#3a3a3a" stroke="#3a3a3a" stroke-width="0.4">2</text>
<line x1="143.2" y1="427.65" x2="150.8" y2="427.65" stroke="#3f3f3f" stroke-width="1.4"/>
<line x1="1134.7" y1="427.65" x2="1141.54" y2="427.65" stroke="#3f3f3f" stroke-width="1.4"/>
<line x1="146.8" y1="361.56" x2="150.8" y2="361.56" stroke="#3f3f3f" stroke-width="1.4"/>
<line x1="1134.7" y1="361.56" x2="1138.3" y2="361.56" stroke="#3f3f3f" stroke-width="1.4"/>
<line x1="146.8" y1="322.9" x2="150.8" y2="322.9" stroke="#3f3f3f" stroke-width="1.4"/>
<line x1="1134.7" y1="322.9" x2="1138.3" y2="322.9" stroke="#3f3f3f" stroke-width="1.4"/>
<line x1="146.8" y1="295.47" x2="150.8" y2="295.47" stroke="#3f3f3f" stroke-width="1.4"/>
<line x1="1134.7" y1="295.47" x2="1138.3" y2="295.47" stroke="#3f3f3f" stroke-width="1.4"/>
<line x1="146.8" y1="274.19" x2="150.8" y2="274.19" stroke="#3f3f3f" stroke-width="1.4"/>
<line x1="1134.7" y1="274.19" x2="1138.3" y2="274.19" stroke="#3f3f3f" stroke-width="1.4"/>
<line x1="146.8" y1="256.81" x2="150.8" y2="256.81" stroke="#3f3f3f" stroke-width="1.4"/>
<line x1="1134.7" y1="256.81" x2="1138.3" y2="256.81" stroke="#3f3f3f" stroke-width="1.4"/>
<line x1="146.8" y1="242.11" x2="150.8" y2="242.11" stroke="#3f3f3f" stroke-width="1.4"/>
<line x1="1134.7" y1="242.11" x2="1138.3" y2="242.11" stroke="#3f3f3f" stroke-width="1.4"/>
<line x1="146.8" y1="229.38" x2="150.8" y2="229.38" stroke="#3f3f3f" stroke-width="1.4"/>
<line x1="1134.7" y1="229.38" x2="1138.3" y2="229.38" stroke="#3f3f3f" stroke-width="1.4"/>
<line x1="146.8" y1="218.15" x2="150.8" y2="218.15" stroke="#3f3f3f" stroke-width="1.4"/>
<line x1="1134.7" y1="218.15" x2="1138.3" y2="218.15" stroke="#3f3f3f" stroke-width="1.4"/>
<text x="80.6" y="444.65" font-size="35" font-weight="bold" fill="#3a3a3a" stroke="#3a3a3a" stroke-width="0.4" textLength="35" lengthAdjust="spacingAndGlyphs">10</text>
<text x="115.6" y="429.65" font-size="27.8" font-weight="bold" fill="#3a3a3a" stroke="#3a3a3a" stroke-width="0.4">3</text>
<line x1="143.2" y1="208.1" x2="150.8" y2="208.1" stroke="#3f3f3f" stroke-width="1.4"/>
<line x1="1134.7" y1="208.1" x2="1141.54" y2="208.1" stroke="#3f3f3f" stroke-width="1.4"/>
<line x1="146.8" y1="142.01" x2="150.8" y2="142.01" stroke="#3f3f3f" stroke-width="1.4"/>
<line x1="1134.7" y1="142.01" x2="1138.3" y2="142.01" stroke="#3f3f3f" stroke-width="1.4"/>
<text x="80.6" y="225.1" font-size="35" font-weight="bold" fill="#3a3a3a" stroke="#3a3a3a" stroke-width="0.4" textLength="35" lengthAdjust="spacingAndGlyphs">10</text>
<text x="115.6" y="210.1" font-size="27.8" font-weight="bold" fill="#3a3a3a" stroke="#3a3a3a" stroke-width="0.4">4</text>
<text transform="translate(24.6,389.5) rotate(-90)" font-size="33" font-weight="bold" fill="#3a3a3a" stroke="#3a3a3a" stroke-width="0.4" text-anchor="middle" textLength="192" lengthAdjust="spacingAndGlyphs">SWIA A15D3</text>
<text transform="translate(61.0,384.4) rotate(-90)" font-size="33" font-weight="bold" fill="#3a3a3a" stroke="#3a3a3a" stroke-width="0.4" text-anchor="middle" textLength="170" lengthAdjust="spacingAndGlyphs">Energy (eV)</text>
<text x="69.6" y="140.3" font-size="38" font-weight="bold" fill="#141414" stroke="#141414" stroke-width="0.4" textLength="39" lengthAdjust="spacingAndGlyphs">(a)</text>
<text x="513.6" y="681.1" font-size="35.5" font-weight="bold" fill="#b5131c" stroke="#b5131c" stroke-width="0.4" textLength="216.5" lengthAdjust="spacingAndGlyphs">Shock:16:38:51</text>
</g>
<g id="panel-b">
<text x="1173.6" y="140.5" font-size="38" font-weight="bold" fill="#141414" stroke="#141414" stroke-width="0.4" textLength="40" lengthAdjust="spacingAndGlyphs">(b)</text>
<text x="1534" y="115.1" font-size="34" font-weight="bold" fill="#141414" stroke="#141414" stroke-width="0.4" text-anchor="middle" textLength="98" lengthAdjust="spacingAndGlyphs">A15D3</text>
<g stroke="#9c9c9c" stroke-width="3.3" fill="none"><path d="M1383.5 522.4H1436 M1383.5 513.1V531.7 M1436 513.1V531.7 M1405 512.8V532 M1395.7 512.8H1414.3 M1395.7 532H1414.3"/><circle cx="1405" cy="522.4" r="6"/></g>
<g stroke="#9c9c9c" stroke-width="3.3" fill="none"><path d="M1387.5 522.4H1439.8 M1387.5 513.1V531.7 M1439.8 513.1V531.7 M1409 512.8V532 M1399.7 512.8H1418.3 M1399.7 532H1418.3"/><circle cx="1409" cy="522.4" r="6"/></g>
<g stroke="#9c9c9c" stroke-width="3.3" fill="none"><path d="M1391.5 522.4H1443.6 M1391.5 513.1V531.7 M1443.6 513.1V531.7 M1413 512.8V532 M1403.7 512.8H1422.3 M1403.7 532H1422.3"/><circle cx="1413" cy="522.4" r="6"/></g>
<g stroke="#9c9c9c" stroke-width="3.3" fill="none"><path d="M1395.5 522.4H1447.4 M1395.5 513.1V531.7 M1447.4 513.1V531.7 M1417 512.8V532 M1407.7 512.8H1426.3 M1407.7 532H1426.3"/><circle cx="1417" cy="522.4" r="6"/></g>
<g stroke="#9c9c9c" stroke-width="3.3" fill="none"><path d="M1399.5 522.4H1451.2 M1399.5 513.1V531.7 M1451.2 513.1V531.7 M1421 512.8V532 M1411.7 512.8H1430.3 M1411.7 532H1430.3"/><circle cx="1421" cy="522.4" r="6"/></g>
<g stroke="#9c9c9c" stroke-width="3.3" fill="none"><path d="M1403.5 522.4H1455 M1403.5 513.1V531.7 M1455 513.1V531.7 M1425 512.8V532 M1415.7 512.8H1434.3 M1415.7 532H1434.3"/><circle cx="1425" cy="522.4" r="6"/></g>
<g stroke="#9c9c9c" stroke-width="3.3" fill="none"><path d="M1385.5 502.1H1417 M1385.5 492.8V511.4 M1417 492.8V511.4 M1400 491.9V512.3 M1390.7 491.9H1409.3 M1390.7 512.3H1409.3"/><circle cx="1400" cy="502.1" r="6"/></g>
<g stroke="#9c9c9c" stroke-width="3.3" fill="none"><path d="M1390 502.1H1421.5 M1390 492.8V511.4 M1421.5 492.8V511.4 M1404.5 491.9V512.3 M1395.2 491.9H1413.8 M1395.2 512.3H1413.8"/><circle cx="1404.5" cy="502.1" r="6"/></g>
<g stroke="#9c9c9c" stroke-width="3.3" fill="none"><path d="M1394.5 502.1H1426 M1394.5 492.8V511.4 M1426 492.8V511.4 M1409 491.9V512.3 M1399.7 491.9H1418.3 M1399.7 512.3H1418.3"/><circle cx="1409" cy="502.1" r="6"/></g>
<g stroke="#9c9c9c" stroke-width="3.3" fill="none"><path d="M1399.5 502.1H1431 M1399.5 492.8V511.4 M1431 492.8V511.4 M1414 491.9V512.3 M1404.7 491.9H1423.3 M1404.7 512.3H1423.3"/><circle cx="1414" cy="502.1" r="6"/></g>
<g stroke="#9c9c9c" stroke-width="3.3" fill="none"><path d="M1404.5 502.1H1436 M1404.5 492.8V511.4 M1436 492.8V511.4 M1419 491.9V512.3 M1409.7 491.9H1428.3 M1409.7 512.3H1428.3"/><circle cx="1419" cy="502.1" r="6"/></g>
<g stroke="#9c9c9c" stroke-width="3.3" fill="none"><path d="M1410.5 502.1H1442 M1410.5 492.8V511.4 M1442 492.8V511.4 M1425 491.9V512.3 M1415.7 491.9H1434.3 M1415.7 512.3H1434.3"/><circle cx="1425" cy="502.1" r="6"/></g>
<g stroke="#9c9c9c" stroke-width="3.3" fill="none"><path d="M1427.9 502.1H1459.4 M1427.9 492.8V511.4 M1459.4 492.8V511.4 M1442.4 491.9V512.3 M1433.1 491.9H1451.7 M1433.1 512.3H1451.7"/><circle cx="1442.4" cy="502.1" r="6"/></g>
<g stroke="#9c9c9c" stroke-width="3.3" fill="none"><path d="M1398.9 479.6H1442.4 M1398.9 470.3V488.9 M1442.4 470.3V488.9 M1421.4 467V492.2 M1412.1 467H1430.7 M1412.1 492.2H1430.7"/><circle cx="1421.4" cy="479.6" r="6"/></g>
<g stroke="#9c9c9c" stroke-width="3.3" fill="none"><path d="M1403.5 479.6H1447 M1403.5 470.3V488.9 M1447 470.3V488.9 M1426 467V492.2 M1416.7 467H1435.3 M1416.7 492.2H1435.3"/><circle cx="1426" cy="479.6" r="6"/></g>
<g stroke="#9c9c9c" stroke-width="3.3" fill="none"><path d="M1408.5 479.6H1452 M1408.5 470.3V488.9 M1452 470.3V488.9 M1431 467V492.2 M1421.7 467H1440.3 M1421.7 492.2H1440.3"/><circle cx="1431" cy="479.6" r="6"/></g>
<g stroke="#9c9c9c" stroke-width="3.3" fill="none"><path d="M1414.3 479.6H1457.8 M1414.3 470.3V488.9 M1457.8 470.3V488.9 M1436.8 467V492.2 M1427.5 467H1446.1 M1427.5 492.2H1446.1"/><circle cx="1436.8" cy="479.6" r="6"/></g>
<g stroke="#9c9c9c" stroke-width="3.3" fill="none"><path d="M1432.6 479.6H1476.1 M1432.6 470.3V488.9 M1476.1 470.3V488.9 M1455.1 467V492.2 M1445.8 467H1464.4 M1445.8 492.2H1464.4"/><circle cx="1455.1" cy="479.6" r="6"/></g>
<g stroke="#96634f" stroke-width="3.3" fill="none"><path d="M1449 423.7H1471 M1449 414.4V433 M1471 414.4V433 M1460 406.7V440.7 M1450.7 406.7H1469.3 M1450.7 440.7H1469.3"/><circle cx="1460" cy="423.7" r="6"/></g>
<g stroke="#96634f" stroke-width="3.3" fill="none"><path d="M1471.9 423.7H1493.9 M1471.9 414.4V433 M1493.9 414.4V433 M1482.9 406.7V440.7 M1473.6 406.7H1492.2 M1473.6 440.7H1492.2"/><circle cx="1482.9" cy="423.7" r="6"/></g>
<g stroke="#96634f" stroke-width="3.3" fill="none"><path d="M1475.5 423.7H1497.5 M1475.5 414.4V433 M1497.5 414.4V433 M1486.5 406.7V440.7 M1477.2 406.7H1495.8 M1477.2 440.7H1495.8"/><circle cx="1486.5" cy="423.7" r="6"/></g>
<g stroke="#96634f" stroke-width="3.3" fill="none"><path d="M1496.9 425H1536.3 M1496.9 415.7V434.3 M1536.3 415.7V434.3 M1516.6 409.5V440.5 M1507.3 409.5H1525.9 M1507.3 440.5H1525.9"/><circle cx="1516.6" cy="425" r="6"/></g>
<g stroke="#96634f" stroke-width="3.3" fill="none"><path d="M1486.7 388.6H1498.7 M1486.7 379.3V397.9 M1498.7 379.3V397.9 M1492.7 370.1V407.1 M1483.4 370.1H1502 M1483.4 407.1H1502"/><circle cx="1492.7" cy="388.6" r="6"/></g>
<g stroke="#96634f" stroke-width="3.3" fill="none"><path d="M1500 388.6H1512 M1500 379.3V397.9 M1512 379.3V397.9 M1506 370.1V407.1 M1496.7 370.1H1515.3 M1496.7 407.1H1515.3"/><circle cx="1506" cy="388.6" r="6"/></g>
<g stroke="#96634f" stroke-width="3.3" fill="none"><path d="M1510.4 406.8H1528.4 M1510.4 397.5V416.1 M1528.4 397.5V416.1 M1519.4 392.3V421.3 M1510.1 392.3H1528.7 M1510.1 421.3H1528.7"/><circle cx="1519.4" cy="406.8" r="6"/></g>
<g stroke="#96634f" stroke-width="3.3" fill="none"><path d="M1523.2 367.5H1535.2 M1523.2 358.2V376.8 M1535.2 358.2V376.8 M1529.2 354V381 M1519.9 354H1538.5 M1519.9 381H1538.5"/><circle cx="1529.2" cy="367.5" r="6"/></g>
<g stroke="#96634f" stroke-width="3.3" fill="none"><path d="M1529.5 388.6H1543.5 M1529.5 379.3V397.9 M1543.5 379.3V397.9 M1536.5 370.1V407.1 M1527.2 370.1H1545.8 M1527.2 407.1H1545.8"/><circle cx="1536.5" cy="388.6" r="6"/></g>
<g stroke="#96634f" stroke-width="3.3" fill="none"><path d="M1533.5 388.6H1547.5 M1533.5 379.3V397.9 M1547.5 379.3V397.9 M1540.5 370.1V407.1 M1531.2 370.1H1549.8 M1531.2 407.1H1549.8"/><circle cx="1540.5" cy="388.6" r="6"/></g>
<g stroke="#96634f" stroke-width="3.3" fill="none"><path d="M1537.5 388.6H1551.5 M1537.5 379.3V397.9 M1551.5 379.3V397.9 M1544.5 370.1V407.1 M1535.2 370.1H1553.8 M1535.2 407.1H1553.8"/><circle cx="1544.5" cy="388.6" r="6"/></g>
<line x1="1275.8" y1="646.9" x2="1781.4" y2="128.3" stroke="#b5131c" stroke-width="3.3"/>
<text x="1405" y="582.3" font-size="32.7" fill="#b5131c" textLength="230" lengthAdjust="spacingAndGlyphs">slope=1.02±0.16</text>
<text x="1405" y="620.1" font-size="32.7" fill="#b5131c" textLength="119" lengthAdjust="spacingAndGlyphs">CC=0.95</text>
<rect x="1275.8" y="128.3" width="517.7" height="518.6" fill="none" stroke="#3f3f3f" stroke-width="2.1"/>
<path d="M1301.68 646.9V638.2M1301.68 128.3V137M1275.8 620.97H1284.5M1793.5 620.97H1784.8M1327.57 646.9V638.2M1327.57 128.3V137M1275.8 595.04H1284.5M1793.5 595.04H1784.8M1353.45 646.9V638.2M1353.45 128.3V137M1275.8 569.11H1284.5M1793.5 569.11H1784.8M1379.34 646.9V638.2M1379.34 128.3V137M1275.8 543.18H1284.5M1793.5 543.18H1784.8M1405.22 646.9V630.6M1405.22 128.3V144.6M1275.8 517.25H1292.1M1793.5 517.25H1777.2M1431.11 646.9V638.2M1431.11 128.3V137M1275.8 491.32H1284.5M1793.5 491.32H1784.8M1456.99 646.9V638.2M1456.99 128.3V137M1275.8 465.39H1284.5M1793.5 465.39H1784.8M1482.88 646.9V638.2M1482.88 128.3V137M1275.8 439.46H1284.5M1793.5 439.46H1784.8M1508.76 646.9V638.2M1508.76 128.3V137M1275.8 413.53H1284.5M1793.5 413.53H1784.8M1534.65 646.9V630.6M1534.65 128.3V144.6M1275.8 387.6H1292.1M1793.5 387.6H1777.2M1560.54 646.9V638.2M1560.54 128.3V137M1275.8 361.67H1284.5M1793.5 361.67H1784.8M1586.42 646.9V638.2M1586.42 128.3V137M1275.8 335.74H1284.5M1793.5 335.74H1784.8M1612.31 646.9V638.2M1612.31 128.3V137M1275.8 309.81H1284.5M1793.5 309.81H1784.8M1638.19 646.9V638.2M1638.19 128.3V137M1275.8 283.88H1284.5M1793.5 283.88H1784.8M1664.08 646.9V630.6M1664.08 128.3V144.6M1275.8 257.95H1292.1M1793.5 257.95H1777.2M1689.96 646.9V638.2M1689.96 128.3V137M1275.8 232.02H1284.5M1793.5 232.02H1784.8M1715.85 646.9V638.2M1715.85 128.3V137M1275.8 206.09H1284.5M1793.5 206.09H1784.8M1741.73 646.9V638.2M1741.73 128.3V137M1275.8 180.16H1284.5M1793.5 180.16H1784.8M1767.62 646.9V638.2M1767.62 128.3V137M1275.8 154.23H1284.5M1793.5 154.23H1784.8" stroke="#3f3f3f" stroke-width="1.7" fill="none"/>
<text x="1275.5" y="692.4" font-size="34" font-weight="bold" fill="#3a3a3a" stroke="#3a3a3a" stroke-width="0.4" text-anchor="middle" textLength="15.5" lengthAdjust="spacingAndGlyphs">0</text>
<text x="1261" y="659.3" font-size="34" font-weight="bold" fill="#3a3a3a" stroke="#3a3a3a" stroke-width="0.4" text-anchor="end" textLength="15.5" lengthAdjust="spacingAndGlyphs">0</text>
<text x="1404.92" y="692.4" font-size="34" font-weight="bold" fill="#3a3a3a" stroke="#3a3a3a" stroke-width="0.4" text-anchor="middle" textLength="15.5" lengthAdjust="spacingAndGlyphs">1</text>
<text x="1261" y="529.65" font-size="34" font-weight="bold" fill="#3a3a3a" stroke="#3a3a3a" stroke-width="0.4" text-anchor="end" textLength="15.5" lengthAdjust="spacingAndGlyphs">1</text>
<text x="1534.35" y="692.4" font-size="34" font-weight="bold" fill="#3a3a3a" stroke="#3a3a3a" stroke-width="0.4" text-anchor="middle" textLength="15.5" lengthAdjust="spacingAndGlyphs">2</text>
<text x="1261" y="400" font-size="34" font-weight="bold" fill="#3a3a3a" stroke="#3a3a3a" stroke-width="0.4" text-anchor="end" textLength="15.5" lengthAdjust="spacingAndGlyphs">2</text>
<text x="1663.78" y="692.4" font-size="34" font-weight="bold" fill="#3a3a3a" stroke="#3a3a3a" stroke-width="0.4" text-anchor="middle" textLength="15.5" lengthAdjust="spacingAndGlyphs">3</text>
<text x="1261" y="270.35" font-size="34" font-weight="bold" fill="#3a3a3a" stroke="#3a3a3a" stroke-width="0.4" text-anchor="end" textLength="15.5" lengthAdjust="spacingAndGlyphs">3</text>
<text x="1793.2" y="692.4" font-size="34" font-weight="bold" fill="#3a3a3a" stroke="#3a3a3a" stroke-width="0.4" text-anchor="middle" textLength="15.5" lengthAdjust="spacingAndGlyphs">4</text>
<text x="1261" y="140.7" font-size="34" font-weight="bold" fill="#3a3a3a" stroke="#3a3a3a" stroke-width="0.4" text-anchor="end" textLength="15.5" lengthAdjust="spacingAndGlyphs">4</text>
<text transform="translate(1222.2,392.4) rotate(-90)" font-size="32.8" font-weight="bold" fill="#3a3a3a" stroke="#3a3a3a" stroke-width="0.4" text-anchor="middle" textLength="321.5" lengthAdjust="spacingAndGlyphs">Observed energy (keV)</text>
<text x="1533.6" y="735.4" font-size="33.5" font-weight="bold" fill="#3a3a3a" stroke="#3a3a3a" stroke-width="0.4" text-anchor="middle" textLength="398" lengthAdjust="spacingAndGlyphs">Energy gained from E (keV)</text>
</g>
</svg></body></html>
